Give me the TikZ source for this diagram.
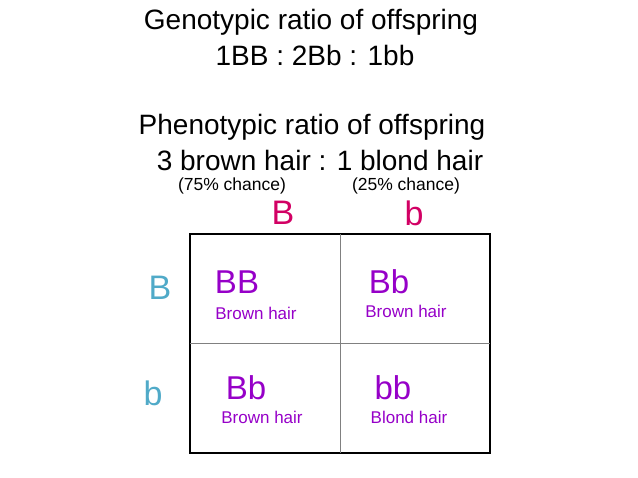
\documentclass[tikz,border=0pt]{standalone}
\usepackage{fontspec}
\setmainfont{Liberation Sans}
\definecolor{mag}{RGB}{210,0,100}
\definecolor{pur}{RGB}{150,0,200}
\definecolor{cy}{RGB}{80,170,200}
\begin{document}
\begin{tikzpicture}[x=1pt,y=-1pt,
  big/.style={font=\fontsize{28}{30}\selectfont,inner sep=0},
  small/.style={font=\fontsize{17.5}{19}\selectfont,inner sep=0},
  allele/.style={font=\fontsize{34}{36}\selectfont,inner sep=0},
  geno/.style={font=\fontsize{33}{35}\selectfont,inner sep=0,text=pur},
  pheno/.style={font=\fontsize{17}{19}\selectfont,inner sep=0,text=pur}]
\useasboundingbox (0,0) rectangle (638,478);
\node[big] (t1) at (311,22) {Genotypic ratio of offspring};
\node[big] (t2) at (315,55) {1BB : 2Bb : 1bb};
\node[big] (t3) at (312,127) {Phenotypic ratio of offspring};
\node[big] (t4) at (320,160) {3 brown hair : 1 blond hair};
\node[small] (c1) at (232,186) {(75\% chance)};
\node[small] (c2) at (406,186) {(25\% chance)};
\node[allele,text=mag] (tb1) at (283,213) {B};
\node[allele,text=mag] (tb2) at (414,213) {b};
\node[allele,text=cy] (lb1) at (160,288) {B};
\node[allele,text=cy] (lb2) at (153,393) {b};
\draw[line width=1.3pt] (190,234) rectangle (490,453);
\draw[line width=0.6pt,gray] (340,234) -- (340,453);
\draw[line width=0.6pt,gray] (190,343) -- (490,343);
\node[geno] (g1) at (237,282) {BB};
\node[pheno] (p1) at (256,313) {Brown hair};
\node[geno] (g2) at (389,282) {Bb};
\node[pheno] (p2) at (406,311) {Brown hair};
\node[geno] (g3) at (246,388) {Bb};
\node[pheno] (p3) at (262,417) {Brown hair};
\node[geno] (g4) at (393,388) {bb};
\node[pheno] (p4) at (409,417) {Blond hair};
\end{tikzpicture}
\end{document}
